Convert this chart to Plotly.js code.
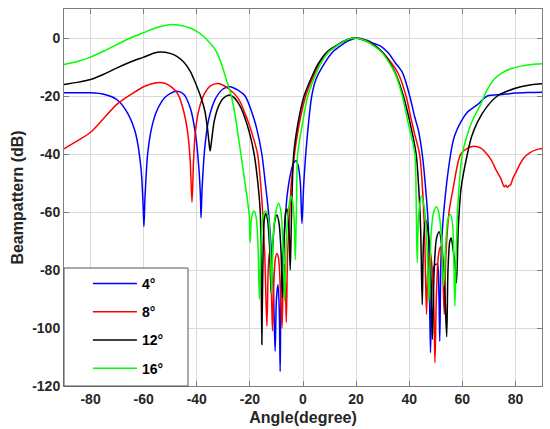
<!DOCTYPE html>
<html>
<head>
<meta charset="utf-8">
<script src="https://cdn.plot.ly/plotly-3.0.1.min.js"></script>
<style>html,body{margin:0;padding:0;background:#fff;}#chart{width:550px;height:429px;}</style>
</head>
<body>
<div id="chart"></div>
<script>
// Series names
var seriesNames = ['4°', '8°', '12°', '16°'];
var seriesColors = ['#0000ff', '#ff0000', '#000000', '#00ff00'];

// 4° (blue)
var ang4 = [-90,-80,-75,-70,-66,-63,-61,-60.2,-59.9,-59.5,-58.5,-57,-55,-52,-48,-45,-42.5,-40.5,-39.2,-38.6,-38.4,-38,-37,-35.5,-33,-30,-27.5,-24.5,-21.8,-19.5,-17.5,-15.5,-14.2,-13,-11.8,-11.1,-10.5,-10,-9.4,-8.9,-8.6,-8.2,-7,-6,-4.5,-3.5,-2.6,-1.8,-1,-0.4,0.3,1.5,3.3,5,8.2,11,14,17,20.5,24,27,29.2,32,34.8,37.5,40.2,42,43.5,44.9,46,47.2,48,48.6,49.5,50.6,51.1,51.5,52,53,55.6,57,59.4,62,65.7,69.4,75,80,85,90];
var db4  = [-18.9,-18.9,-19.4,-21.3,-26,-33,-45,-58,-65,-55,-40,-31,-25,-20.5,-18.4,-19.3,-24,-33,-45,-55,-62,-52,-38,-28,-21,-17.5,-16.8,-18,-20,-25,-31,-40,-50,-60,-75,-88,-108,-90,-85,-95,-115,-85,-67,-54.5,-46,-43,-42.3,-44,-50,-64,-50,-35,-20,-14,-8.6,-5,-2.8,-1,0,-0.8,-2,-2.8,-5,-8.6,-12,-20,-27,-32,-40,-50,-65,-108.5,-85,-78.5,-78,-85,-104.6,-75,-60,-40,-34,-29,-25.5,-23,-20,-19.5,-19,-18.8,-18.7];

// 8° (red)
var ang8 = [-90,-85,-80,-76.5,-70,-64,-60,-55,-52,-49,-47,-45,-43.5,-42.5,-41.8,-41.2,-40.5,-39,-37,-35,-32,-28,-24.3,-21,-19,-17.1,-15.8,-15.2,-14.4,-13.6,-13.1,-12.7,-12.1,-11.5,-11,-10.4,-9.8,-9.2,-8.6,-7.9,-7.5,-7,-6.6,-6.3,-5.8,-5,-4.4,-3.2,-1.5,1,4,6.3,10,12.5,16,19.8,23.5,27,30,33.3,36,38.8,40.5,42,43.9,45,45.8,46.5,47,47.8,48.5,49.2,49.7,50.2,51,51.8,52.5,53.2,53.8,55,56.5,59.4,62,64.4,67,69.4,71,72.6,74.5,75.8,76.3,77,77.6,78.2,79,80.1,81.5,83.2,85.5,88,90];
var db8  = [-38.2,-35.5,-32.5,-29.2,-22.8,-19,-16.8,-15.4,-15.6,-17.3,-19.5,-25,-32,-42,-56.6,-42,-32,-24,-19,-16.6,-15.7,-17.5,-21,-28,-33.5,-40,-52,-60,-75,-99.4,-80,-74,-80,-101,-85,-76,-74.3,-76,-85,-100,-85,-78,-85,-98,-75,-60,-50,-40,-30,-20,-13,-8.6,-4.5,-2.8,-0.8,0,-0.8,-2.6,-5,-8.6,-12.5,-20,-27,-33,-40,-52,-68,-95.3,-80,-73,-78,-90,-112,-90,-75,-72,-78,-95.3,-75,-60,-52,-40,-38,-37.3,-38,-40.2,-42.3,-45.3,-48.5,-51.3,-50.8,-51.5,-50.9,-50.6,-48.5,-46.5,-43.8,-41.3,-39.5,-38.5,-38.1];

// 12° (black)
var ang12 = [-90,-85,-80,-75,-70,-65,-60,-56,-53.8,-50,-47.5,-45,-42.5,-40.5,-38.8,-37,-36,-35.4,-35,-34.5,-33.5,-32,-30,-28,-26.3,-24,-21,-18.4,-17,-16.1,-15.8,-15.5,-15,-14.5,-14,-13.3,-12.6,-12,-11.4,-10.6,-9.8,-9,-8.3,-7.7,-7.1,-6.5,-6,-5.5,-5.1,-4.8,-4.3,-3.5,-2,0.4,3.5,5.9,9,12.2,15.5,19.2,23,27.3,30,32.7,35,37.8,40,42.6,43.6,44.3,44.9,45.4,46.2,47,48,48.7,49.4,50.3,51.3,52.3,53.3,54.1,54.6,55.3,55.8,56.4,57.2,57.8,58.5,59.5,61.9,63.5,65.7,69,73.2,77,82,86,90];
var db12  = [-16,-15.3,-14.3,-12.5,-10.3,-8.3,-6.6,-5.2,-4.8,-5.3,-6.3,-8.2,-11.4,-15.5,-19.5,-25,-31,-36,-39,-36,-29,-24,-20.8,-19.7,-20.3,-23,-30,-40,-50,-60,-75,-105.7,-72,-62,-60.5,-63,-72,-88,-72,-63,-61,-64,-73,-89.5,-70,-60,-59,-63,-70,-80,-60,-40,-30,-20,-13,-8.6,-4.8,-2.8,-1,0,-0.8,-2.8,-5,-8.6,-12.5,-20,-28,-40,-52,-66,-92,-70,-62.8,-66,-78,-104,-80,-69,-66.8,-72,-85,-103,-80,-70,-69,-72,-78,-84.4,-65,-52,-40,-34,-29,-24,-20,-18.3,-16.8,-16.1,-15.8];

// 16° (green)
var ang16 = [-90,-85,-80,-75,-70,-65,-60,-55,-50,-46,-43,-40,-37.5,-35.5,-33.5,-32,-30.5,-29,-27,-25.5,-23.4,-22,-20.9,-20.2,-19.9,-19.5,-18.9,-18.3,-17.6,-17,-16.4,-15.8,-15,-14,-13,-12.4,-11.8,-11.2,-10.2,-9.2,-8.3,-7.6,-6.9,-6.3,-5.3,-4.4,-3.7,-3.2,-2.9,-2.5,-2,-0.3,1.8,4.6,6.8,9.6,12.6,16,19.5,23,26.8,29.7,32.5,34.8,37.4,39.3,42.1,42.6,43,43.5,44.6,45.6,46.5,47.4,48.2,49.2,50.3,51.3,52.2,53,53.8,54.7,55.6,56.4,57.2,57.8,58.3,60,62,64,66.9,69,71.9,75,78,82,86,90];
var db16  = [-9.1,-8.1,-6.6,-4.5,-2.2,0,1.8,3.6,4.6,4.3,3.6,2.3,0.6,-1.3,-3.4,-5.8,-9.5,-14,-20,-27,-40,-49,-56,-62,-70.5,-63,-60.2,-59.7,-62,-70,-90,-70,-61,-59.7,-62,-70,-88,-68,-60,-57,-60,-70,-90.7,-70,-58,-54.5,-58,-66,-76.5,-60,-40,-30,-20,-13,-8.6,-4.8,-2.8,-0.8,0,-0.8,-2.8,-5,-8.6,-12.5,-20,-28,-40,-55,-77.5,-62,-54.5,-58,-67,-91,-68,-60,-58.2,-61,-70,-85.6,-70,-62,-60.9,-65,-92.5,-70,-58,-40,-33,-28,-22.9,-18.5,-14.3,-12,-10.7,-9.7,-9.1,-8.9];

var xTicks = [-80, -60, -40, -20, 0, 20, 40, 60, 80];
var yTicks = [-120, -100, -80, -60, -40, -20, 0];

var angles = [ang4, ang8, ang12, ang16];
var values = [db4, db8, db12, db16];

var traces = angles.map(function (a, i) {
  return {
    x: a, y: values[i], type: 'scatter', mode: 'lines',
    name: seriesNames[i], legendgroup: 'g' + i,
    line: {color: seriesColors[i], width: 1.5, shape: 'spline', smoothing: 0.8}
  };
});

var fontFam = '"Liberation Sans", Arial, sans-serif';
var axisCommon = {
  showline: true, mirror: 'ticks', linecolor: '#7f7f7f', linewidth: 1,
  ticks: 'inside', ticklen: 5, tickcolor: '#7f7f7f',
  showgrid: true, gridcolor: '#dadada', gridwidth: 1, zeroline: false,
  tickfont: {family: fontFam, size: 14, color: '#262626', weight: 'bold'}
};

var layout = {
  width: 550, height: 429,
  margin: {l: 64, r: 8, t: 9, b: 43},
  paper_bgcolor: '#ffffff', plot_bgcolor: '#ffffff',
  showlegend: true,
  xaxis: Object.assign({}, axisCommon, {
    range: [-90, 90], tickvals: xTicks, ticktext: xTicks.map(String),
    title: {text: 'Angle(degree)', standoff: 6, font: {family: fontFam, size: 16, color: '#262626', weight: 'bold'}}
  }),
  yaxis: Object.assign({}, axisCommon, {
    range: [-120, 10], tickvals: yTicks, ticktext: yTicks.map(String),
    title: {text: 'Beampattern (dB)', standoff: 4, font: {family: fontFam, size: 16, color: '#262626', weight: 'bold'}}
  }),
  legend: {
    x: 0.05, y: 0.313, xanchor: 'left', yanchor: 'top',
    bgcolor: 'rgba(0,0,0,0)', borderwidth: 0,
    itemwidth: 44, tracegroupgap: 7,
    font: {family: fontFam, size: 14, color: '#000000', weight: 'bold'}
  },
  shapes: [{
    type: 'rect', xref: 'paper', yref: 'paper', layer: 'above',
    x0: 0, x1: 124 / 478, y0: 0, y1: 118 / 377,
    fillcolor: '#ffffff', line: {color: '#555555', width: 1}
  }]
};

Plotly.newPlot('chart', traces, layout, {displayModeBar: false, staticPlot: true});
</script>
</body>
</html>
